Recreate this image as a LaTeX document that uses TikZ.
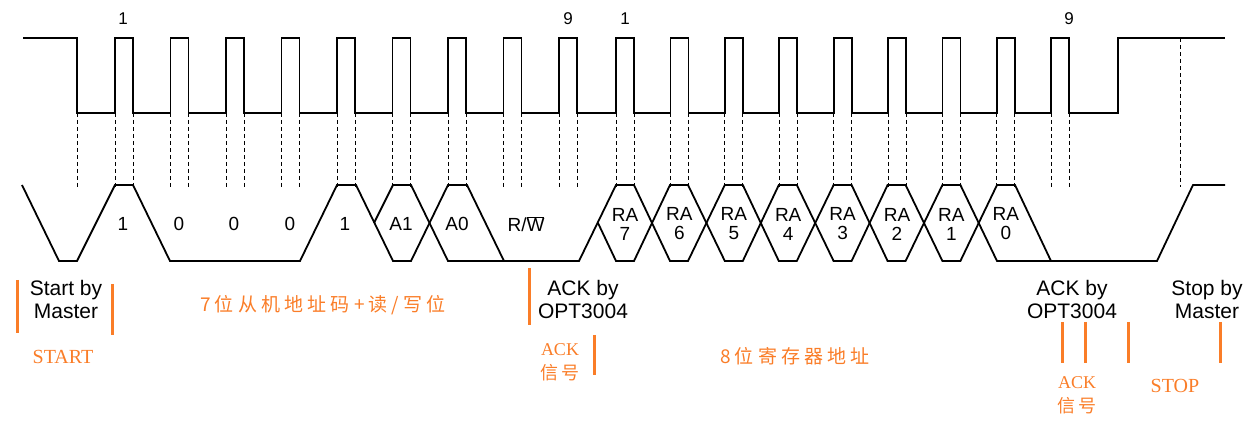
\documentclass[tikz,border=0pt]{standalone}
\usepackage{fontspec}
\setmainfont{Liberation Sans}
\newfontfamily\cjk[LetterSpace=22]{Noto Sans CJK SC}
\newfontfamily\serifo{Liberation Serif}
\definecolor{org}{RGB}{250,125,40}
\begin{document}
\begin{tikzpicture}[x=1pt,y=-1pt,
  wave/.style={line width=1.8pt,line join=miter},
  dsh/.style={dashed,line width=0.8pt,dash pattern=on 4pt off 3pt},
  lbl/.style={font=\fontsize{21}{22}\selectfont,inner sep=0pt,align=center},
  slbl/.style={font=\fontsize{19}{20}\selectfont,inner sep=0pt,align=center},
  num/.style={font=\fontsize{17}{17}\selectfont,inner sep=0pt},
  otxt/.style={text=org,inner sep=0pt,align=center},
  obar/.style={org,line width=3pt}]
\useasboundingbox (0,0) rectangle (1253,427);
% SCL
\draw[wave] (23,38) -- (77,38) -- (77,113)
  \foreach \i in {0,...,8}{ -- ({115+55.5*\i},113) -- ({115+55.5*\i},38) -- ({133+55.5*\i},38) -- ({133+55.5*\i},113)}
  \foreach \i in {0,...,8}{ -- ({616+54.4*\i},113) -- ({616+54.4*\i},38) -- ({634+54.4*\i},38) -- ({634+54.4*\i},113)}
  -- (1118,113) -- (1118,38) -- (1225,38);
% dashed guides
\draw[dsh] (77,113) -- (77,187);
\foreach \i in {0,...,8}{
  \draw[dsh] ({115+55.5*\i},113) -- ({115+55.5*\i},187);
  \draw[dsh] ({133+55.5*\i},113) -- ({133+55.5*\i},187);
  \draw[dsh] ({616+54.4*\i},113) -- ({616+54.4*\i},187);
  \draw[dsh] ({634+54.4*\i},113) -- ({634+54.4*\i},187);}
\draw[dsh] (1180,38) -- (1180,187);
% SDA
\draw[wave] (22,185) -- (59,261) -- (77,261) -- (115,185) -- (133,185) -- (170,261) -- (300,261)
  -- (337,185) -- (356,185) -- (393,261) -- (411,261) -- (448,185) -- (467,185) -- (504,261) -- (579,261)
  -- (616,185) -- (634,185)
  \foreach \k in {0,2,4}{ -- ({670+54.4*\k},261) -- ({688+54.4*\k},261) -- ({724.8+54.4*\k},185) -- ({742.8+54.4*\k},185)}
  -- (997,261) -- (1015,261) -- (1157,261) -- (1193,185) -- (1225,185);
\draw[wave] (374,223) -- (393,185) -- (411,185) -- (448,261) -- (504,261);
\draw[wave] (598,223) -- (616,261) -- (634,261)
  \foreach \k in {0,2,4}{ -- ({670+54.4*\k},185) -- ({688+54.4*\k},185) -- ({724.8+54.4*\k},261) -- ({742.8+54.4*\k},261)}
  -- (997,185) -- (1015,185) -- (1051,261);
% top numbers
\node[num] (n1) at (123,19) {1};
\node[num] (n9) at (568,19) {9};
\node[num] (n1b) at (625,19) {1};
\node[num] (n9b) at (1069,19) {9};
% bit labels
\node[slbl] (b1) at (123,224) {1};
\node[slbl] (b2) at (179,224) {0};
\node[slbl] (b3) at (234,224) {0};
\node[slbl] (b4) at (290,224) {0};
\node[slbl] (b5) at (345,224) {1};
\node[slbl] (b6) at (401,224) {A1};
\node[slbl] (b7) at (457,224) {A0};
\node[slbl] (b8) at (526,224) {R/$\overline{\mbox{W}}$};
\foreach \j/\d in {0/7,1/6,2/5,3/4,4/3,5/2,6/1,7/0}{
  \node[slbl] (ra\d) at ({625+54.4*\j},224) {RA\\[-1pt]\d};}
% black annotations
\node[lbl] (sbm) at (66,299) {Start by\\[1pt]Master};
\node[lbl] (ack1) at (583,299) {ACK by\\[1pt]OPT3004};
\node[lbl] (ack2) at (1072,299) {ACK by\\[1pt]OPT3004};
\node[lbl] (stop) at (1207,299) {Stop by\\[1pt]Master};
% orange
\draw[obar] (17,280) -- (17,333);
\draw[obar] (112,284) -- (112,335);
\draw[obar] (529,268) -- (529,325);
\draw[obar] (594,335) -- (594,375);
\foreach \x in {1062,1085,1128,1220}{\draw[obar] (\x,322) -- (\x,363);}
\node[otxt,font=\serifo\fontsize{20}{20}\selectfont] (tstart) at (63,357) {START};
\node[otxt,font=\cjk\fontsize{19}{19}\selectfont] (t7) at (323,305) {7位从机地址码+读/写位};
\node[otxt,font=\cjk\fontsize{18}{24}\selectfont] (tack1) at (560,362) {{\serifo ACK}\\信号};
\node[otxt,font=\cjk\fontsize{19}{19}\selectfont] (t8) at (795,356) {8位寄存器地址};
\node[otxt,font=\cjk\fontsize{18}{24}\selectfont] (tack2) at (1077,395) {{\serifo ACK}\\信号};
\node[otxt,font=\serifo\fontsize{20}{20}\selectfont] (tstop) at (1175,386) {STOP};
\end{tikzpicture}
\end{document}
